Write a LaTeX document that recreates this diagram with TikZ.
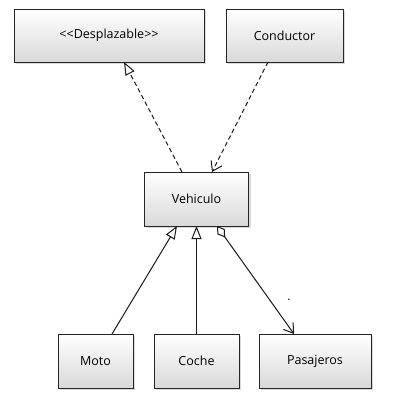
\documentclass[tikz,border=0pt]{standalone}
\usepackage{fontspec}
\setmainfont{Open Sans}
\usetikzlibrary{arrows.meta,shadows}
\begin{document}
\begin{tikzpicture}[x=1pt,y=-1pt,
  umlbox/.style={draw=black!85,line width=1pt,top color=white,bottom color=black!15,
    drop shadow={shadow xshift=2pt,shadow yshift=-2pt,opacity=0.25,fill=black!60},
    inner sep=0pt,font=\fontsize{12.5}{14}\selectfont},
  link/.style={draw=black!90,line width=1pt},
  dashline/.style={dash pattern=on 4.5pt off 3pt},
  realize/.style={-{Triangle[open,length=13pt,width=10pt]}},
  depend/.style={-{Straight Barb[length=9pt,width=12pt]}},
  aggr/.style={{Diamond[open,length=14pt,width=9pt]}-{Straight Barb[length=9pt,width=12pt]}}]
\useasboundingbox (0,0) rectangle (400,400);
\node[umlbox,minimum width=190pt,minimum height=53pt] (desp) at (109,35.5) {{<}\kern0pt{<}Desplazable{>}\kern0pt{>}};
\node[umlbox,minimum width=117pt,minimum height=53pt] (cond) at (284.5,35.5) {Conductor};
\node[umlbox,minimum width=104pt,minimum height=54pt] (veh) at (196.5,199) {Vehiculo};
\node[umlbox,minimum width=75pt,minimum height=54pt] (moto) at (95.5,361) {Moto};
\node[umlbox,minimum width=85pt,minimum height=54pt] (coche) at (196.5,361) {Coche};
\node[umlbox,minimum width=112pt,minimum height=54pt] (pas) at (315,361) {Pasajeros};
\coordinate (vtop1) at (182,172);
\coordinate (vtop2) at (212,172);
\coordinate (dbot) at (124,62);
\coordinate (cbot) at (268,62);
\coordinate (vb1) at (177,226);
\coordinate (vb2) at (196.5,226);
\coordinate (vb3) at (217,226);
\coordinate (mt) at (112,334);
\coordinate (ct) at (196.5,334);
\coordinate (pt) at (294,334);
\draw[link,dashline,realize] (vtop1) -- (dbot);
\draw[link,dashline,depend] (cbot) -- (vtop2);
\draw[link,realize] (mt) -- (vb1);
\draw[link,realize] (ct) -- (vb2);
\draw[link,aggr] (vb3) -- (pt);
\node[font=\fontsize{12}{12}\selectfont,inner sep=0pt] (dot) at (289,300) {.};
\end{tikzpicture}
\end{document}
